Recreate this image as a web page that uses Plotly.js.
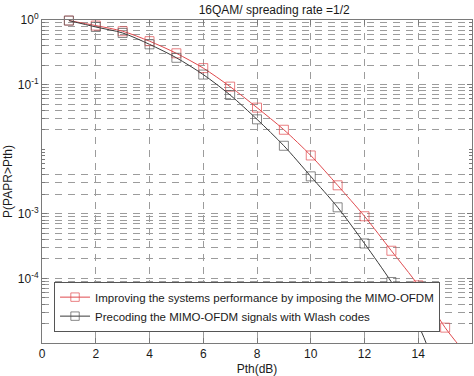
<!DOCTYPE html>
<html>
<head>
<meta charset="utf-8">
<script src="https://cdn.plot.ly/plotly-3.0.1.min.js"></script>
<style>html,body{margin:0;padding:0;background:#fff;}#chart{width:474px;height:376px;}</style>
</head>
<body>
<div id="chart"></div>
<script>
// ---- data ----
const pth = [1, 2, 3, 4, 5, 6, 7, 8, 9, 10, 11, 12, 13, 14, 15];
const improvingY = [0.98, 0.82, 0.67, 0.47, 0.305, 0.18, 0.093, 0.044, 0.020, 0.0080, 0.00276, 0.000916, 0.000268, 7.8e-5, 1.73e-5];
const precodingY = [0.98, 0.78, 0.63, 0.42, 0.26, 0.143, 0.069, 0.029, 0.0113, 0.0038, 0.00126, 0.000347, 8.8e-5, 1.9e-5];
// curve continuation below the axis floor (no marker)
const improvingTailX = [15.6];
const improvingTailY = [8.3e-6];
const precodingTailX = [14.5];
const precodingTailY = [6e-6];

const seriesNames = [
  'Improving the systems performance by imposing the MIMO-OFDM',
  'Precoding the MIMO-OFDM signals with Wlash codes'
];
const xTickVals = [0, 2, 4, 6, 8, 10, 12, 14];
const yTickVals = [1, 0.1, 0.001, 0.0001];
const yTickText = ['10<sup>0</sup>', '10<sup>-1</sup>', '10<sup>-3</sup>', '10<sup>-4</sup>'];
const yMinorVals = [
  0.9, 0.8, 0.7, 0.6, 0.5, 0.4, 0.3, 0.2,
  0.09, 0.08, 0.07, 0.06, 0.05, 0.04, 0.03, 0.02,
  0.01, 0.009, 0.008, 0.007, 0.006, 0.005, 0.004, 0.003, 0.002,
  0.0009, 0.0008, 0.0007, 0.0006, 0.0005, 0.0004, 0.0003, 0.0002,
  0.00009, 0.00008, 0.00007, 0.00006, 0.00005, 0.00004, 0.00003, 0.00002
];
// horizontal grid lines visible in the reference (upper part of the 1e-2 decade has none)
const yGridVals = [
  0.9, 0.8, 0.7, 0.6, 0.5, 0.4, 0.3, 0.2,
  0.1, 0.09, 0.08, 0.07, 0.06, 0.05, 0.04, 0.03, 0.02,
  0.004, 0.003, 0.002,
  0.001, 0.0009, 0.0008, 0.0007, 0.0006, 0.0005, 0.0004, 0.0003, 0.0002,
  0.0001, 0.00009, 0.00008, 0.00007, 0.00006, 0.00005, 0.00004, 0.00003, 0.00002
];

const redColor = '#e04a4e';
const blackColor = '#3a3a3a';
const gridDash = '7px,6px';
const gridColor = '#9c9c9c';
const frameColor = '#7a7a7a';

function sizes(n, s) { const a = []; for (let i = 0; i < n; i++) a.push(s); return a; }

const traces = [
  {
    x: pth.concat(improvingTailX),
    y: improvingY.concat(improvingTailY),
    name: seriesNames[0],
    mode: 'lines+markers',
    line: {color: redColor, width: 1, shape: 'spline', smoothing: 0.8},
    marker: {symbol: 'square-open', size: sizes(pth.length, 9).concat([0]), color: redColor, line: {width: 1}},
    cliponaxis: false
  },
  {
    x: pth.slice(0, precodingY.length).concat(precodingTailX),
    y: precodingY.concat(precodingTailY),
    name: seriesNames[1],
    mode: 'lines+markers',
    line: {color: blackColor, width: 1, shape: 'spline', smoothing: 0.8},
    marker: {symbol: 'square-open', size: sizes(precodingY.length, 9).concat([0]), color: '#555555', line: {width: 1}},
    cliponaxis: false
  },
  {
    // invisible carrier for the grid-only overlay axis
    x: pth, y: improvingY, yaxis: 'y2', mode: 'lines',
    line: {width: 0}, opacity: 0, showlegend: false, hoverinfo: 'skip'
  }
];

const baseFont = {family: 'Liberation Sans, Arial, sans-serif', size: 12, color: '#1a1a1a'};

const layout = {
  width: 474, height: 376,
  margin: {l: 42, r: 2, t: 20, b: 33},
  paper_bgcolor: '#ffffff', plot_bgcolor: '#ffffff',
  font: baseFont,
  showlegend: true,
  title: {
    text: '16QAM/ spreading rate =1/2',
    font: {family: baseFont.family, size: 12, color: '#1a1a1a'},
    x: 0.54, xanchor: 'center', y: 0.973, yanchor: 'middle', xref: 'paper', yref: 'container'
  },
  xaxis: {
    range: [0, 16], tickvals: xTickVals, ticks: 'inside', ticklen: 5, tickcolor: frameColor,
    showline: true, linecolor: frameColor, linewidth: 1, mirror: 'ticks',
    showgrid: true, gridcolor: gridColor, griddash: gridDash, gridwidth: 1,
    zeroline: false, automargin: false,
    tickfont: {family: baseFont.family, size: 12, color: '#1a1a1a'},
    title: {text: 'Pth(dB)', font: {family: baseFont.family, size: 12, color: '#1a1a1a'}, standoff: 5}
  },
  yaxis: {
    type: 'log', range: [-5, 0], tickvals: yTickVals, ticktext: yTickText,
    ticks: 'inside', ticklen: 5, tickcolor: frameColor,
    minor: {tickvals: yMinorVals, ticks: 'inside', ticklen: 3, tickcolor: frameColor, showgrid: false},
    showline: true, linecolor: frameColor, linewidth: 1, mirror: 'ticks',
    showgrid: false, zeroline: false, automargin: false,
    tickfont: {family: baseFont.family, size: 12, color: '#1a1a1a'},
    title: {text: 'P(PAPR>Pth)', font: {family: baseFont.family, size: 12, color: '#1a1a1a'}, standoff: 2}
  },
  yaxis2: {
    type: 'log', range: [-5, 0], overlaying: 'y', side: 'left',
    tickvals: yGridVals, showticklabels: false, ticks: '',
    showgrid: true, gridcolor: gridColor, griddash: gridDash, gridwidth: 1,
    showline: false, zeroline: false, automargin: false
  },
  legend: {
    x: 0.028, xanchor: 'left', y: 0.19, yanchor: 'top',
    bgcolor: '#ffffff', bordercolor: '#555555', borderwidth: 1,
    font: {family: baseFont.family, size: 11.5, color: '#1a1a1a'},
    tracegroupgap: 0
  }
};

Plotly.newPlot('chart', traces, layout, {displayModeBar: false, staticPlot: true});
</script>
</body>
</html>
